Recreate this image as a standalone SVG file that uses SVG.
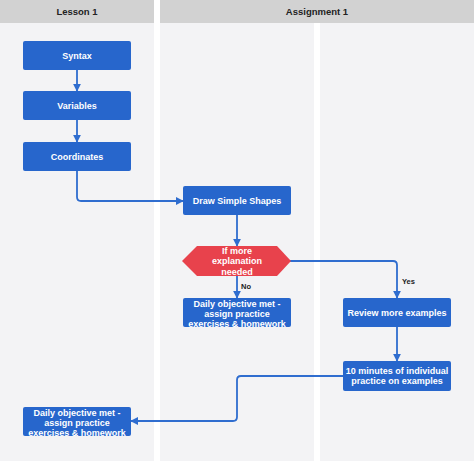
<svg xmlns="http://www.w3.org/2000/svg" width="474" height="462" viewBox="0 0 474 462">
<style>
.lane{fill:#f3f3f5}
.hdr{fill:#d2d2d2}
.ht{font-family:"Liberation Sans",Arial,sans-serif;font-weight:bold;font-size:9.5px;fill:#222;text-anchor:middle}
.box{fill:#2766cc}
.dia{fill:#e8424c}
.t{font-family:"Liberation Sans",Arial,sans-serif;font-weight:bold;font-size:9px;fill:#fff;text-anchor:middle}
.c{fill:none;stroke:#2f6dcf;stroke-width:1.8}
.lbl{font-family:"Liberation Sans",Arial,sans-serif;font-weight:bold;font-size:7.5px;fill:#222}
</style>
<defs>
<marker id="ah" viewBox="0 0 10 10" refX="9" refY="5" markerWidth="4.5" markerHeight="4.5" orient="auto" markerUnits="strokeWidth">
<path d="M0,0 L10,5 L0,10 Z" fill="#2f6dcf"/>
</marker>
</defs>
<rect width="474" height="462" fill="#ffffff"/>
<g id="lanes">
<rect class="lane" x="0" y="0" width="154" height="461"/>
<rect class="hdr" x="0" y="0" width="154" height="23"/>
<text class="ht" x="77" y="15">Lesson 1</text>
<rect class="lane" x="160" y="0" width="154" height="461"/>
<rect class="lane" x="320" y="0" width="154" height="461"/>
<rect class="hdr" x="160" y="0" width="314" height="23"/>
<text class="ht" x="317" y="15">Assignment 1</text>
</g>
<g id="connectors">
<line class="c" x1="77" y1="70" x2="77" y2="91" marker-end="url(#ah)"/>
<line class="c" x1="77" y1="120" x2="77" y2="142" marker-end="url(#ah)"/>
<path class="c" d="M77,171 V197 Q77,201 81,201 H183" marker-end="url(#ah)"/>
<line class="c" x1="237" y1="215" x2="237" y2="246" marker-end="url(#ah)"/>
<line class="c" x1="237" y1="276" x2="237" y2="298" marker-end="url(#ah)"/>
<path class="c" d="M290,261 H393 Q397,261 397,265 V298" marker-end="url(#ah)"/>
<line class="c" x1="397" y1="327" x2="397" y2="361" marker-end="url(#ah)"/>
<path class="c" d="M343,376 H241 Q237,376 237,380 V417 Q237,421 233,421 H131" marker-end="url(#ah)"/>
<text class="lbl" x="241" y="289">No</text>
<text class="lbl" x="402" y="284">Yes</text>
</g>
<g id="n-syntax">
<rect class="box" x="23" y="41" width="108" height="29" rx="2"/>
<text class="t" x="77" y="59">Syntax</text>
</g>
<g id="n-variables">
<rect class="box" x="23" y="91" width="108" height="29" rx="2"/>
<text class="t" x="77" y="109">Variables</text>
</g>
<g id="n-coordinates">
<rect class="box" x="23" y="142" width="108" height="29" rx="2"/>
<text class="t" x="77" y="160">Coordinates</text>
</g>
<g id="n-draw">
<rect class="box" x="183" y="186" width="108" height="29" rx="2"/>
<text class="t" x="237" y="204">Draw Simple Shapes</text>
</g>
<g id="n-decision">
<polygon class="dia" points="182,261 197,246 277,246 291,261 277,276 197,276"/>
<text class="t" x="237" y="254">If more</text>
<text class="t" x="237" y="264.3">explanation</text>
<text class="t" x="237" y="274.6">needed</text>
</g>
<g id="n-daily1">
<rect class="box" x="183" y="298" width="108" height="29" rx="2"/>
<text class="t" x="237" y="306.5">Daily objective met -</text>
<text class="t" x="237" y="316.8">assign practice</text>
<text class="t" x="237" y="327">exercises &amp; homework</text>
</g>
<g id="n-review">
<rect class="box" x="343" y="298" width="108" height="29" rx="2"/>
<text class="t" x="397" y="316">Review more examples</text>
</g>
<g id="n-ten">
<rect class="box" x="343" y="361" width="108" height="30" rx="2"/>
<text class="t" x="397" y="374">10 minutes of individual</text>
<text class="t" x="397" y="384.3">practice on examples</text>
</g>
<g id="n-daily2">
<rect class="box" x="23" y="407" width="108" height="29" rx="2"/>
<text class="t" x="77" y="415.5">Daily objective met -</text>
<text class="t" x="77" y="425.8">assign practice</text>
<text class="t" x="77" y="436">exercises &amp; homework</text>
</g>
</svg>
